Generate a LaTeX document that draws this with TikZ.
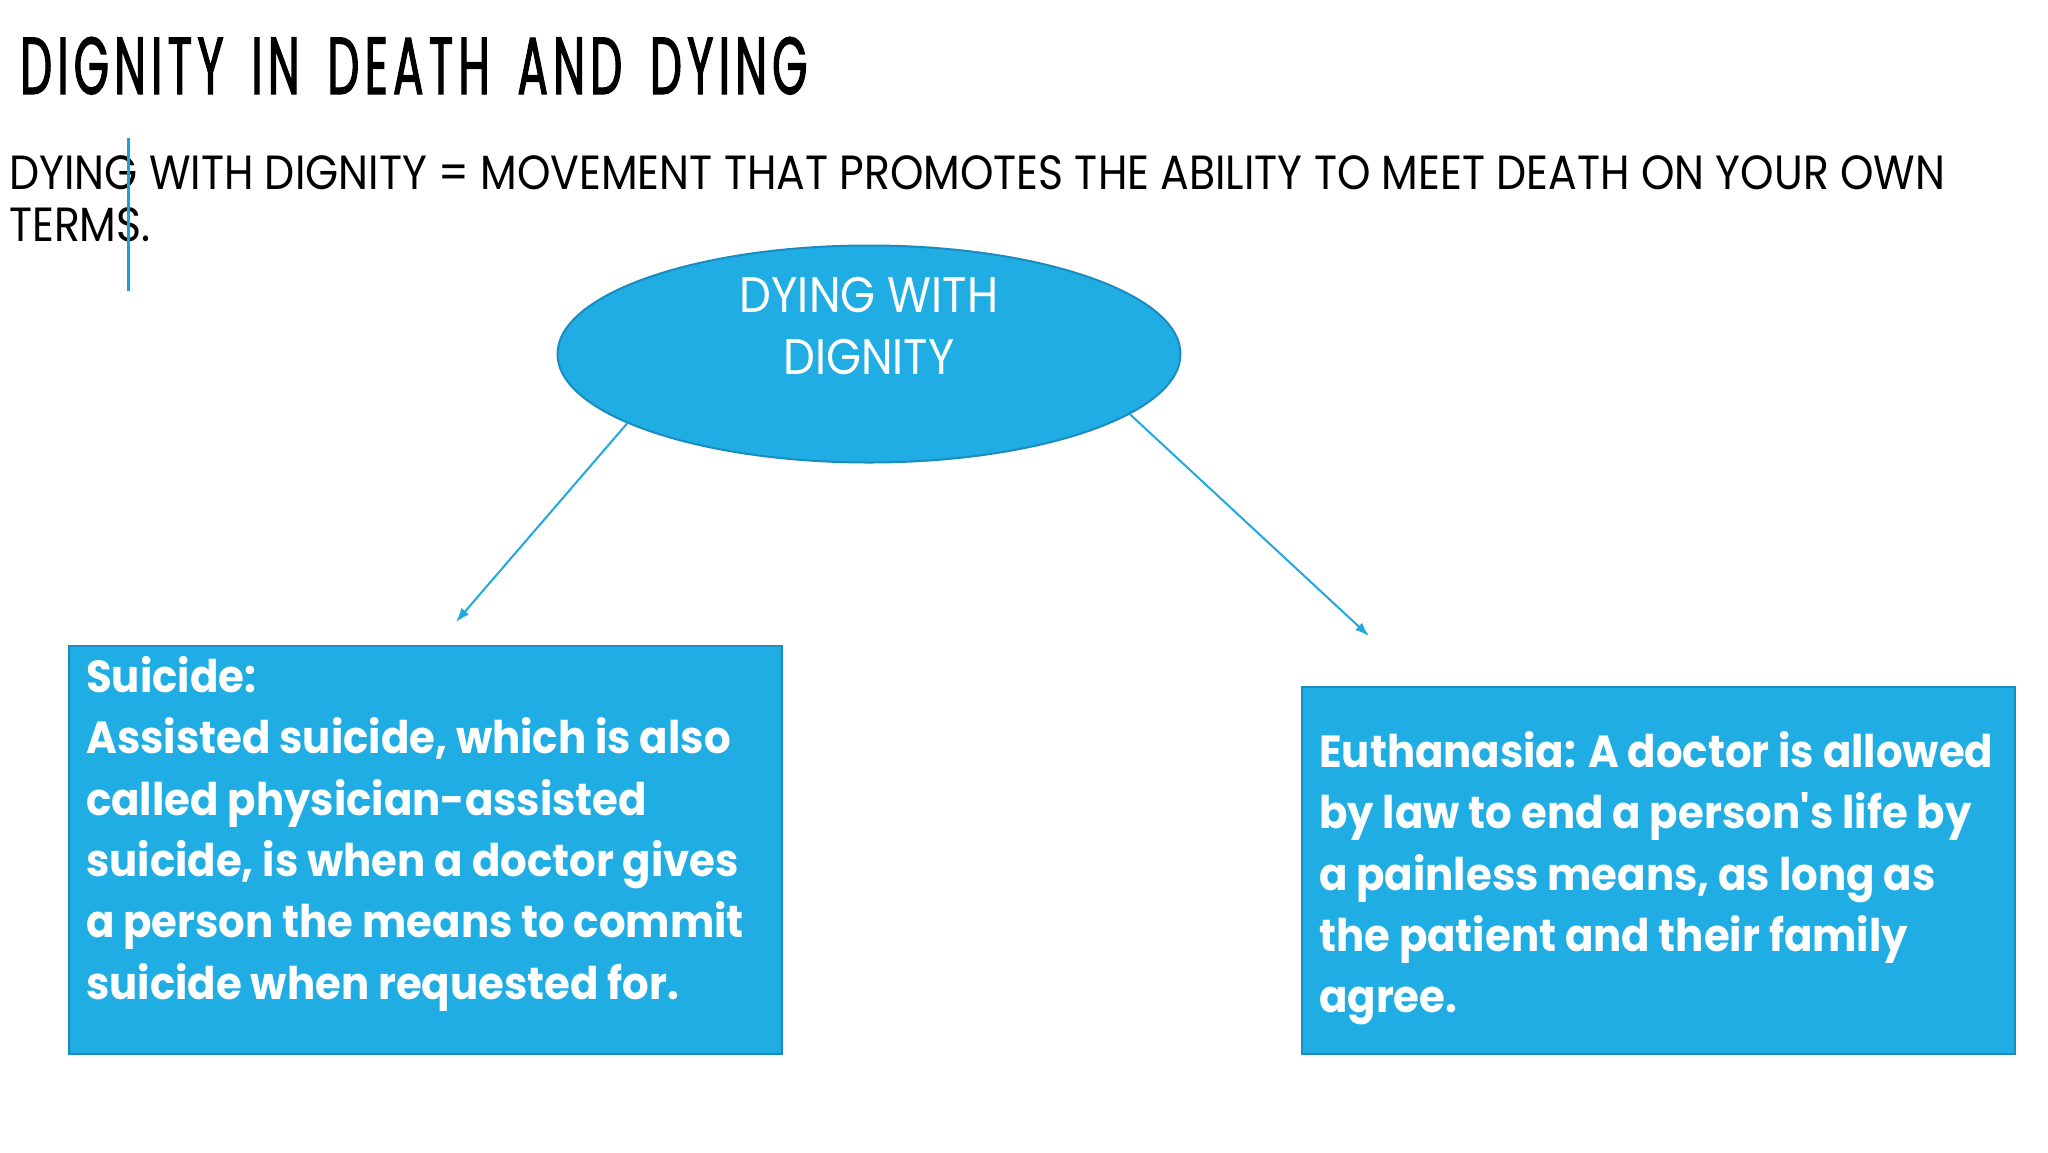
\documentclass[tikz,border=0pt]{standalone}
\usepackage{fontspec}
\setmainfont{Poppins}
\newfontfamily\titlefont{Poppins}[FakeStretch=0.6,LetterSpace=7,WordSpace=1.6,FakeBold=1.5]
\newfontfamily\subfont{Poppins}[FakeStretch=0.887]
\newfontfamily\ellfont{Poppins}[FakeStretch=0.9]
\newfontfamily\boxfont{Poppins}[FakeStretch=0.93]
\usetikzlibrary{shapes.geometric,arrows.meta}
\definecolor{fillblue}{HTML}{1FADE4}
\definecolor{edgeblue}{HTML}{1A8CC0}
\definecolor{arrowblue}{HTML}{1FA9E0}
\definecolor{cursorblue}{HTML}{1E9FD8}
\tikzset{
  bubble/.style={ellipse, fill=fillblue, draw=edgeblue, line width=2pt,
    minimum width=623pt, minimum height=217pt, inner sep=0pt},
  infobox/.style={rectangle, fill=fillblue, draw=edgeblue, line width=2.5pt,
    minimum width=713pt, inner sep=0pt},
  boxtext/.style={anchor=north west, inner sep=0pt, align=left, text=white,
    font=\boxfont\bfseries\fontsize{45}{61.4}\selectfont},
  link/.style={draw=arrowblue, line width=2pt, -{Latex[length=14pt,width=10pt]}},
}
\begin{document}
\begin{tikzpicture}[x=1pt,y=-1pt]
\useasboundingbox[fill=white] (0,0) rectangle (2048,1152);
% title
\node[anchor=base west, inner sep=0pt] (title) at (20,94)
  {\resizebox{787pt}{57pt}{\titlefont DIGNITY IN DEATH AND DYING}};
% subtitle
\node[anchor=north west, inner sep=0pt, align=left,
  font=\subfont\fontsize{48}{52}\selectfont] (sub) at (9,155)
  {DYING WITH DIGNITY = MOVEMENT THAT PROMOTES THE ABILITY TO MEET DEATH ON YOUR OWN\\TERMS.};
% cursor line
\draw[cursorblue, line width=3pt] (128,138) -- (128,291);
% ellipse
\node[bubble] (dwd) at (869,354) {};
\node[inner sep=0pt, align=center, text=white,
  font=\ellfont\fontsize{50}{62}\selectfont] (dwdtext) at (869,326) {DYING WITH\\DIGNITY};
% boxes
\node[infobox, minimum height=408pt] (suicide) at (425.5,850) {};
\node[infobox, minimum height=367pt] (euth) at (1658.5,870.5) {};
\node[boxtext] (suicidetext) at (86,656)
  {Suicide:\\Assisted suicide, which is also\\called physician-assisted\\suicide, is when a doctor gives\\a person the means to commit\\suicide when requested for.};
\node[boxtext] (euthtext) at (1319,731)
  {Euthanasia: A doctor is allowed\\by law to end a person\textquotesingle s life by\\a painless means, as long as\\the patient and their family\\agree.};
% arrows
\coordinate (lend) at (456,622);
\coordinate (rend) at (1369,636);
\draw[link] (dwd.196.4) -- (lend);
\draw[link] (dwd.-13.1) -- (rend);
\end{tikzpicture}
\end{document}
